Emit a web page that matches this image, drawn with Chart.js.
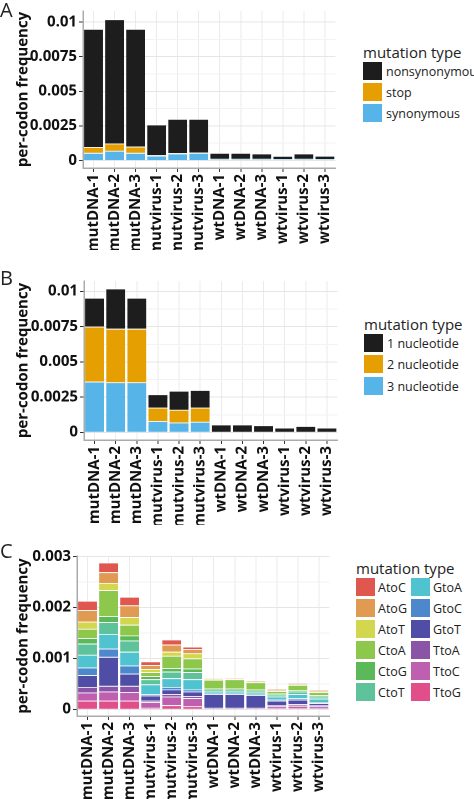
<!DOCTYPE html>
<html><head><meta charset="utf-8">
<script src="https://cdn.jsdelivr.net/npm/chart.js@4"></script>
<style>
body{margin:0;width:474px;height:799px;overflow:hidden;background:#fff;font-family:"Open Sans",sans-serif;position:relative}
.cv{position:absolute;left:0}
.lab{position:absolute;font-size:20px;color:#222;left:0}
.lt{position:absolute;font-size:15px;color:#222;white-space:nowrap}
.k{position:absolute;width:19px;height:18px}
.kt{position:absolute;font-size:12.5px;color:#222;white-space:nowrap}
</style></head><body>
<div class="cv" style="top:0;width:345px;height:250px"><canvas id="a"></canvas></div>
<div class="cv" style="top:270px;width:347px;height:255px"><canvas id="b"></canvas></div>
<div class="cv" style="top:545px;width:339px;height:254px"><canvas id="c"></canvas></div>
<div class="lab" style="top:-4px">A</div>
<div class="lab" style="top:264px">B</div>
<div class="lab" style="top:537px">C</div>
<div id="legs"></div>
<script>
const categories=["mutDNA-1","mutDNA-2","mutDNA-3","mutvirus-1","mutvirus-2","mutvirus-3","wtDNA-1","wtDNA-2","wtDNA-3","wtvirus-1","wtvirus-2","wtvirus-3"];
// Panel A
const synonymous=[0.00055,0.0007,0.00055,0.00035,0.0005,0.00055,0.0001,0.0001,0.0001,0.0001,0.0001,0.0001];
const stop=[0.00042,0.00052,0.00045,0.00003,0.00003,0.00003,0.00002,0.00002,0.00002,0.00001,0.00002,0.00001];
const nonsynonymous=[0.00853,0.00898,0.0085,0.00222,0.00247,0.00242,0.00043,0.00043,0.00038,0.00022,0.00038,0.00023];
// Panel B
const nt3=[0.0036,0.00355,0.00355,0.0008,0.0007,0.00075,0,0,0,0,0,0];
const nt2=[0.0039,0.0038,0.0038,0.00095,0.0009,0.001,0,0,0,0,0,0];
const nt1=[0.00205,0.00285,0.0022,0.00095,0.00135,0.00125,0.00055,0.00055,0.0005,0.00033,0.00045,0.00033];
// Panel C
const AtoC=[0.00018,0.00019,0.00017,0.00007,0.0001,0.00005,0.00001,0.00001,0.00001,0.00001,0.00001,0.00001];
const AtoG=[0.00023,0.00021,0.00023,0.00008,0.00014,0.00008,0.00001,0.00001,0.00001,0.00001,0.00001,0.00001];
const AtoT=[0.00014,0.00014,0.00015,0.00006,0.00008,0.0001,0.00001,0.00001,0.00001,0.00001,0.00001,0.00001];
const CtoA=[0.00018,0.00051,0.00021,0.00008,0.00024,0.0002,0.00017,0.00018,0.00014,0.00005,0.0001,0.00006];
const CtoG=[0.00011,0.00012,0.0001,0.00006,0.00007,0.00007,0.00002,0.00002,0.00002,0.00002,0.00003,0.00003];
const CtoT=[0.00022,0.00023,0.00022,0.0001,0.00013,0.00014,0.00004,0.00004,0.00004,0.00004,0.00005,0.00004];
const GtoA=[0.00025,0.00029,0.00027,0.00019,0.00017,0.0002,0.00004,0.00004,0.00004,0.00006,0.00008,0.00007];
const GtoC=[0.00015,0.00016,0.00016,0.00003,0.00005,0.00004,0.00001,0.00001,0.00001,0.00002,0.00003,0.00002];
const GtoT=[0.00023,0.00057,0.00024,0.0001,0.00009,0.00009,0.00027,0.00027,0.00025,0.00009,0.00009,0.00004];
const TtoA=[0.00011,0.00011,0.00012,0.00003,0.00005,0.00004,0.00001,0.00001,0.00001,0.00002,0.00003,0.00002];
const TtoC=[0.00016,0.00018,0.00017,0.00011,0.00017,0.00016,0.00001,0.00001,0.00001,0.00004,0.00005,0.00004];
const TtoG=[0.00017,0.00017,0.00017,0.00003,0.00008,0.00006,0.00001,0.00001,0.00001,0.00002,0.00002,0.00002];
const ticksAB=[0,0.0025,0.005,0.0075,0.01];
const ticksC=[0,0.001,0.002,0.003];

const F='"Open Sans", sans-serif';
function mk(id,sets,ymin,ymax,majors,leftPad,leftW,plotBottom,h,top){
  const minors=[];for(let i=0;i<majors.length;i++){const s=majors[1]-majors[0];const m=majors[i]+s/2;if(m<ymax)minors.push(m);}
  const all=majors.concat(minors);
  const isMaj=v=>majors.some(m=>Math.abs(m-v)<1e-9);
  new Chart(document.getElementById(id),{type:'bar',
    data:{labels:categories,datasets:sets.map(s=>({label:s[0],data:s[1],backgroundColor:s[2],borderColor:'#fff',borderWidth:{top:0.8,bottom:0,left:0,right:0},borderSkipped:false,barPercentage:0.9,categoryPercentage:1}))},
    options:{animation:false,responsive:true,maintainAspectRatio:false,devicePixelRatio:2,
      layout:{padding:{top:top,right:2,left:leftPad,bottom:0}},
      plugins:{legend:{display:false},tooltip:{enabled:false}},
      scales:{
        x:{stacked:true,offset:true,grid:{offset:false,color:'#ebebeb',tickColor:'#333',tickLength:4},border:{color:'#aaa',width:1.5},
           ticks:{autoSkip:false,maxRotation:90,minRotation:90,color:'#111',font:{family:F,size:15,weight:'bold'},padding:2},
           afterFit:s=>{s.height=h-plotBottom;}},
        y:{stacked:true,min:ymin,max:ymax,border:{color:'#aaa',width:1.5},
           afterBuildTicks:s=>{s.ticks=all.map(v=>({value:v}));},
           grid:{color:c=>isMaj(c.tick&&c.tick.value)?'#e6e6e6':'#f3f3f3',tickColor:c=>isMaj(c.tick&&c.tick.value)?'#333':'rgba(0,0,0,0)',tickLength:4},
           ticks:{autoSkip:false,color:'#111',font:{family:F,size:15,weight:'bold'},padding:2,callback:v=>{const m=majors.find(x=>Math.abs(x-v)<1e-9);return m===undefined?'':String(m);}},
           title:{display:true,text:'per-codon frequency',color:'#111',font:{family:F,size:15,weight:'bold'},padding:{top:0,bottom:2}},
           afterFit:s=>{s.width=leftW;}}
      }}});
}
mk('a',[["synonymous",synonymous,'#56B4E9'],["stop",stop,'#E69F00'],["nonsynonymous",nonsynonymous,'#1d1d1d']],-0.00054,0.0108,ticksAB,14,69,168,250,1);
mk('b',[["3 nucleotide",nt3,'#56B4E9'],["2 nucleotide",nt2,'#E69F00'],["1 nucleotide",nt1,'#1d1d1d']],-0.00054,0.01074,ticksAB,14,70,170,255,3);
const cols={AtoC:'#E0574F',AtoG:'#E09A52',AtoT:'#D3D64F',CtoA:'#8DC84D',CtoG:'#5BB95A',CtoT:'#5EC39B',GtoA:'#4FC3CF',GtoC:'#4E88CC',GtoT:'#4F4DA6',TtoA:'#8A55A6',TtoC:'#BF5FB0',TtoG:'#E24E8A'};
const cd={AtoC,AtoG,AtoT,CtoA,CtoG,CtoT,GtoA,GtoC,GtoT,TtoA,TtoC,TtoG};
const order=["TtoG","TtoC","TtoA","GtoT","GtoC","GtoA","CtoT","CtoG","CtoA","AtoT","AtoG","AtoC"];
mk('c',order.map(n=>[n,cd[n],cols[n]]),-0.00013,0.00301,ticksC,14,63,171,254,5);

const L=document.getElementById('legs');let html='';
function title(x,y){html+=`<div class="lt" style="left:${x}px;top:${y}px">mutation type</div>`;}
function key(x,y,c,t,tx){html+=`<div class="k" style="left:${x}px;top:${y}px;background:${c}"></div><div class="kt" style="left:${tx}px;top:${y+1}px">${t}</div>`;}
title(363,42);key(363,62,'#1d1d1d','nonsynonymous',386);key(363,83,'#E69F00','stop',386);key(363,104,'#56B4E9','synonymous',386);
title(364,314);key(364,334,'#1d1d1d','1 nucleotide',387);key(364,355,'#E69F00','2 nucleotide',387);key(364,377,'#56B4E9','3 nucleotide',387);
title(356,558);
const c1=["AtoC","AtoG","AtoT","CtoA","CtoG","CtoT"],c2=["GtoA","GtoC","GtoT","TtoA","TtoC","TtoG"];
c1.forEach((n,i)=>key(356,578+i*21,cols[n],n,378));
c2.forEach((n,i)=>key(411,578+i*21,cols[n],n,433));
L.innerHTML=html;
</script></body></html>
